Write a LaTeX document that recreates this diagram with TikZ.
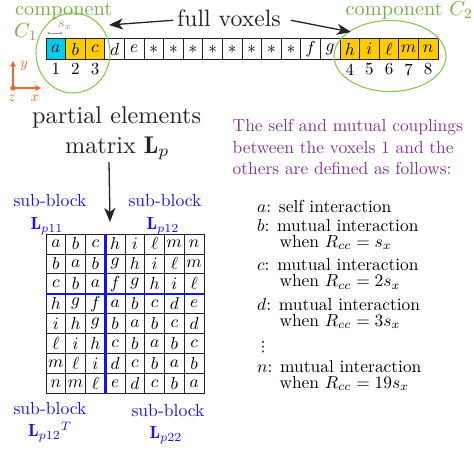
\documentclass[tikz,border=0pt]{standalone}
\usepackage{amsmath}
\usepackage{graphicx}
\usepackage{fontspec}
\newfontfamily\dejavu{DejaVu Sans}
\usetikzlibrary{arrows.meta,shapes.geometric}
\definecolor{cgreen}{RGB}{120,172,70}
\definecolor{egreen}{RGB}{140,200,80}
\definecolor{ccyan}{RGB}{0,204,238}
\definecolor{cyel}{RGB}{255,204,0}
\definecolor{caxis}{RGB}{242,101,34}
\definecolor{cpurp}{RGB}{125,55,140}
\definecolor{cblue}{RGB}{20,20,235}
\definecolor{cgray}{RGB}{150,150,165}
\definecolor{ctext}{RGB}{35,35,35}
\newcommand{\sctxt}[2]{\scalebox{#1}{#2}}
\newcommand{\wtxt}[1]{\scalebox{1.74}{#1}}
\begin{document}
\begin{tikzpicture}[x=1pt,y=-1pt,
  vcell/.style={draw=ctext, line width=0.8pt, minimum width=19.6pt, minimum height=21pt, inner sep=0pt},
  mcell/.style={draw=ctext, line width=0.8pt, minimum width=19.75pt, minimum height=19.9pt, inner sep=0pt},
  num/.style={inner sep=0pt},
  big/.style={inner sep=0pt, text=ctext},
  comp/.style={inner sep=0pt, text=cgreen},
  sub/.style={inner sep=0pt, text=cblue},
  purp/.style={inner sep=0pt, text=cpurp, anchor=base west},
  item/.style={inner sep=0pt, text=black, anchor=base west},
  bigarrow/.style={line width=1.3pt, ctext, -{Stealth[length=14pt,width=11pt,inset=4pt]}},
  axarrow/.style={line width=1.3pt, caxis, -{Stealth[length=6pt,width=6pt,inset=2pt]}},
  axlab/.style={inner sep=0pt, text=caxis},
  comell/.style={draw=egreen, line width=1.1pt, ellipse, inner sep=0pt}
]
\path[use as bounding box] (0,0) rectangle (474,467);

% top row of voxels
\foreach \e [count=\i] in {a,b,c,d,e,*,*,*,*,*,*,*,*,f,g,h,i,\ell,m,n} {
  \ifnum\i=1 \def\fc{ccyan}\else\ifnum\i<4 \def\fc{cyel}\else\ifnum\i>15 \def\fc{cyel}\else\def\fc{white}\fi\fi\fi
  \node[vcell, fill=\fc] (v\i) at ({46+19.6*(\i-0.5)},49) {\sctxt{1.74}{$\e$}};
}
\foreach \n/\k in {1/1,2/2,3/3,4/16,5/17,6/18,7/19,8/20} {
  \node[num, anchor=north] (n\n) at ([yshift=-3.5pt]v\k.south) {\sctxt{1.7}{\n}};
}

% component ellipses
\node[comell, minimum width=74pt, minimum height=80pt] (c1) at (73,53) {};
\node[comell, minimum width=112pt, minimum height=71pt] (c2) at (390,56) {};
\node[comp, anchor=base west] (comp1) at (15,15) {\sctxt{2.03}{component}};
\node[comp, anchor=base west] (c1lab) at (14,37) {\sctxt{2.03}{$C_1$}};
\node[comp, anchor=base west] (comp2) at (345.5,15) {\sctxt{2.03}{component $C_2$}};

% s_x
\node[inner sep=0pt, text=cgray, anchor=base] (sx) at (65,27) {\sctxt{1.45}{$s_x$}};
\coordinate (sxa) at (47,33);
\coordinate (sxb) at (63,33);
\draw[cgray, line width=0.6pt, {Stealth[length=3pt,width=3pt]}-{Stealth[length=3pt,width=3pt]}] (sxa) -- (sxb);

% full voxels
\node[big, anchor=base west] (fv) at (177,26.5) {\sctxt{2.37}{full voxels}};
\coordinate (t1) at (109,25);
\coordinate (t2) at (351,32);
\draw[bigarrow] ([xshift=-4pt,yshift=-2pt]fv.west) -- (t1);
\draw[bigarrow] ([xshift=10pt,yshift=-2pt]fv.east) -- (t2);

% axes
\coordinate (o) at (13,88);
\coordinate (ay) at (13,61);
\coordinate (ax) at (41,88);
\draw[axarrow] (o) -- (ay);
\draw[axarrow] (o) -- (ax);
\fill[caxis] (o) circle (2.6pt);
\node[axlab] (ylab) at (24,66) {\sctxt{1.5}{$y$}};
\node[axlab] (xlab) at (35,98) {\sctxt{1.5}{$x$}};
\node[axlab] (zlab) at (12,98) {\sctxt{1.5}{$z$}};

% partial elements
\node[big, anchor=base west] (pe) at (32,123.3) {\sctxt{2.42}{partial elements}};
\node[big, anchor=base west] (pm) at (65,153.3) {\sctxt{2.42}{matrix $\mathbf{L}_p$}};
\coordinate (a3s) at (109,162);
\coordinate (a3e) at (110,222);
\draw[bigarrow] (a3s) -- (a3e);

% sub-block labels
\node[sub] (sb11) at (50,200) {\sctxt{1.76}{sub-block}};
\node[sub] (l11) at (47,226) {\sctxt{1.76}{$\mathbf{L}_{p11}$}};
\node[sub] (sb12) at (165,200) {\sctxt{1.76}{sub-block}};
\node[sub] (l12) at (163,226) {\sctxt{1.76}{$\mathbf{L}_{p12}$}};
\node[sub] (sb21) at (50,408) {\sctxt{1.76}{sub-block}};
\node[sub] (l21) at (50,432) {\sctxt{1.76}{$\mathbf{L}_{p12}{}^{T}$}};
\node[sub] (sb22) at (168,410) {\sctxt{1.76}{sub-block}};
\node[sub] (l22) at (166,435) {\sctxt{1.76}{$\mathbf{L}_{p22}$}};

% matrix
\foreach \row [count=\i] in {{a,b,c,h,i,\ell,m,n},{b,a,b,g,h,i,\ell,m},{c,b,a,f,g,h,i,\ell},{h,g,f,a,b,c,d,e},{i,h,g,b,a,b,c,d},{\ell,i,h,c,b,a,b,c},{m,\ell,i,d,c,b,a,b},{n,m,\ell,e,d,c,b,a}} {
  \foreach \e [count=\j] in \row {
    \node[mcell] (m-\i-\j) at ({46+19.75*(\j-0.5)},{234+19.9*(\i-0.5)}) {\sctxt{1.74}{$\e$}};
  }
}
\draw[cblue, line width=1.4pt] (m-3-1.south west) -- (m-3-8.south east);
\draw[cblue, line width=3pt] (m-1-3.north east) -- (m-8-3.south east);

% purple text
\node[purp] (p1) at (232.5,131.7) {\wtxt{The self and mutual couplings}};
\node[purp] (p2) at (232.5,153) {\wtxt{between the voxels 1 and the}};
\node[purp] (p3) at (232.5,174) {\wtxt{others are defined as follows:}};

% list
\node[item] (ia) at (257,212) {\wtxt{$a$: self interaction}};
\node[item] (ib) at (257,231.7) {\wtxt{$b$: mutual interaction}};
\node[item] (ib2) at (279.3,247.3) {\wtxt{when $R_{cc}=s_x$}};
\node[item] (ic) at (257,270.7) {\wtxt{$c$: mutual interaction}};
\node[item] (ic2) at (279.3,286.7) {\wtxt{when $R_{cc}=2s_x$}};
\node[item] (id) at (257,310) {\wtxt{$d$: mutual interaction}};
\node[item] (id2) at (279.3,326) {\wtxt{when $R_{cc}=3s_x$}};
\node[inner sep=0pt] (dots) at (263,347.5) {\dejavu\fontsize{14}{16}\selectfont ⋮};
\node[item] (in) at (257,372.3) {\wtxt{$n$: mutual interaction}};
\node[item] (in2) at (279.3,388.3) {\wtxt{when $R_{cc}=19s_x$}};
\end{tikzpicture}
\end{document}
